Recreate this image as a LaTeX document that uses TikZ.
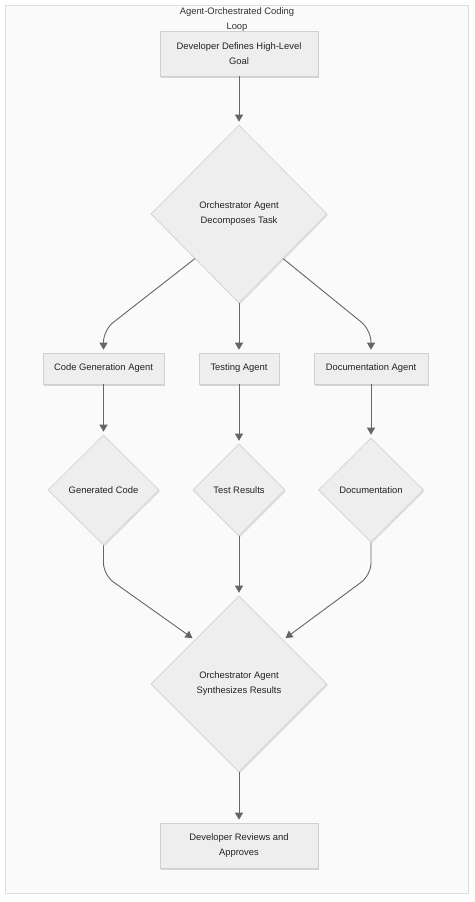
\documentclass[tikz,border=0pt]{standalone}
\usepackage{fontspec}
\setmainfont{Liberation Sans}
\usetikzlibrary{shapes.geometric,arrows.meta,shadows}
\definecolor{nodefill}{HTML}{EEEEEE}
\definecolor{nodeedge}{HTML}{D0D0D0}
\definecolor{linec}{HTML}{666666}
\definecolor{framefill}{HTML}{FAFAFA}
\definecolor{frameedge}{HTML}{DDDDDD}
\definecolor{txt}{HTML}{222222}
\tikzset{
  lbl/.style={font=\fontsize{9.4}{15}\selectfont, text=txt, align=center},
  boxnode/.style={lbl, rectangle, fill=nodefill, draw=nodeedge, line width=0.6pt,
    inner sep=0pt, drop shadow={shadow xshift=1pt, shadow yshift=-1.5pt, fill=black!25, opacity=0.6}},
  dia/.style={lbl, diamond, fill=nodefill, draw=nodeedge, line width=0.6pt,
    inner sep=0pt, aspect=1, drop shadow={shadow xshift=1pt, shadow yshift=-1.5pt, fill=black!20, opacity=0.5}},
  arr/.style={draw=linec, line width=0.9pt, -{Triangle[width=8pt,length=7pt]}, shorten >=3pt, rounded corners=12pt}
}
\begin{document}
\begin{tikzpicture}[x=1pt,y=-1pt]
\useasboundingbox (0,0) rectangle (474,902);
\draw[fill=framefill, draw=frameedge, line width=0.8pt] (5,5) rectangle (468,893);
\node[lbl, text=black!80] (title) at (237,19.5) {Agent-Orchestrated Coding\\Loop};

\node[boxnode, minimum width=158pt, minimum height=45pt] (goal) at (239,53.5) {Developer Defines High-Level\\Goal};
\node[dia, minimum width=176pt, minimum height=178pt] (d1) at (239,214) {Orchestrator Agent\\Decomposes Task};

\node[boxnode, minimum width=121pt, minimum height=31pt] (cg) at (103.5,368.5) {Code Generation Agent};
\node[boxnode, minimum width=80pt, minimum height=31pt] (ta) at (239,368.5) {Testing Agent};
\node[boxnode, minimum width=114pt, minimum height=31pt] (da) at (371,368.5) {Documentation Agent};

\node[dia, minimum width=111pt, minimum height=110pt] (gc) at (103.5,490) {Generated Code};
\node[dia, minimum width=92pt, minimum height=92pt] (tr) at (239,490) {Test Results};
\node[dia, minimum width=105pt, minimum height=104pt] (doc) at (371,490) {Documentation};

\node[dia, minimum width=176pt, minimum height=176pt] (d2) at (239,684) {Orchestrator Agent\\Synthesizes Results};
\node[boxnode, minimum width=158pt, minimum height=45pt] (rev) at (239,845.5) {Developer Reviews and\\Approves};

\coordinate (c1) at (103.5,330);
\coordinate (c2) at (371,330);
\coordinate (c3) at (103.5,575);
\coordinate (c4) at (371,575);

\draw[arr] (goal.south) -- (d1.north);
\draw[arr] (d1.south west) -- (c1) -- (cg.north);
\draw[arr] (d1.south) -- (ta.north);
\draw[arr] (d1.south east) -- (c2) -- (da.north);
\draw[arr] (cg.south) -- (gc.north);
\draw[arr] (ta.south) -- (tr.north);
\draw[arr] (da.south) -- (doc.north);
\draw[arr] (gc.south) -- (c3) -- (d2.north west);
\draw[arr] (tr.south) -- (d2.north);
\draw[arr] (doc.south) -- (c4) -- (d2.north east);
\draw[arr] (d2.south) -- (rev.north);
\end{tikzpicture}
\end{document}
